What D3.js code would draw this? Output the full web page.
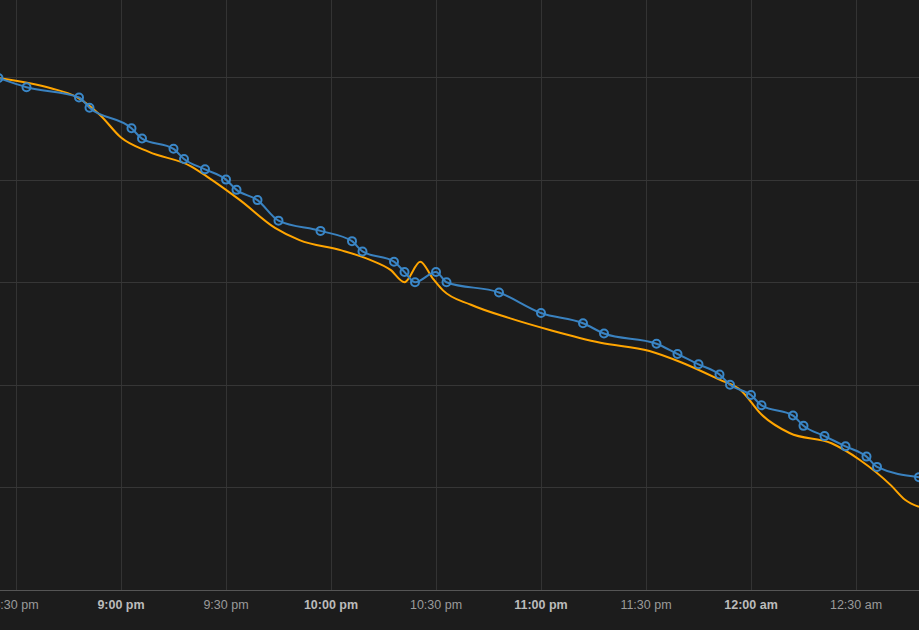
<!DOCTYPE html>
<html><head><meta charset="utf-8">
<script src="https://cdn.jsdelivr.net/npm/d3@7"></script>
<style>body{margin:0;background:#1c1c1c;}svg{display:block;}</style>
</head><body><svg id="c" width="919" height="630"></svg>
<script>
// minutes after 20:00
const blueMinutes=[25,33,48,51,63,66,75,78,84,90,93,99,105,117,126,129,138,141,144,150,153,168,180,192,198,213,219,225,231,234,240,243,252,255,261,267,273,276,288];
const blueValues=[4.99,4.9,4.8,4.7,4.5,4.4,4.3,4.2,4.1,4.0,3.9,3.8,3.6,3.5,3.4,3.3,3.2,3.1,3.0,3.1,3.0,2.9,2.7,2.6,2.5,2.4,2.3,2.2,2.1,2.0,1.9,1.8,1.7,1.6,1.5,1.4,1.3,1.2,1.1];
const orangeMinutes=[25,40,47,54,60,68,80,85,94,104,111,123,131,137,141,145.5,149,152,160,171,183,197,211,220,231,237,243,251,263,271,280,284,288];
const orangeValues=[4.99,4.89,4.81,4.63,4.41,4.27,4.13,4.02,3.8,3.53,3.41,3.31,3.22,3.12,3.0,3.2,3.04,2.92,2.78,2.65,2.53,2.41,2.33,2.22,2.05,1.95,1.71,1.53,1.43,1.27,1.02,0.88,0.81];
const tickMinutes=[30,60,90,120,150,180,210,240,270];
const tickLabels=["8:30 pm","9:00 pm","9:30 pm","10:00 pm","10:30 pm","11:00 pm","11:30 pm","12:00 am","12:30 am"];
const tickBold=[false,true,false,true,false,true,false,true,false];
const yTicks=[0,1,2,3,4,5];

const base=new Date(2024,0,1,20,0);
const t=m=>new Date(base.getTime()+m*60000);
const svg=d3.select("#c");
const x=d3.scaleTime().domain([t(30-16*30/105),t(30+903*30/105)]).range([0,919]);
const y=d3.scaleLinear().domain([0,5]).range([590,77]);

svg.append("rect").attr("width",919).attr("height",630).attr("fill","#1c1c1c");
const g=svg.append("g");
g.selectAll(".vg").data(tickMinutes).join("line").attr("x1",d=>x(t(d))+.5).attr("x2",d=>x(t(d))+.5)
 .attr("y1",0).attr("y2",590).attr("stroke","#333").attr("stroke-width",1);
g.selectAll(".hg").data(yTicks).join("line").attr("x1",0).attr("x2",919)
 .attr("y1",d=>Math.round(y(d))+.5).attr("y2",d=>Math.round(y(d))+.5)
 .attr("stroke",d=>d===0?"#555":"#363636").attr("stroke-width",1);
g.selectAll(".tl").data(tickMinutes).join("text").attr("x",d=>x(t(d))).attr("y",609)
 .attr("text-anchor","middle").attr("fill",(d,i)=>tickBold[i]?"#bbb":"#9a9a9a")
 .attr("font-family","'Liberation Sans Narrow','Liberation Sans',Arial,sans-serif").attr("font-size",12.5)
 .attr("font-weight",(d,i)=>tickBold[i]?"bold":"normal").text((d,i)=>tickLabels[i]);

const oData=orangeMinutes.map((m,i)=>[t(m),orangeValues[i]]);
const bData=blueMinutes.map((m,i)=>[t(m),blueValues[i]]);
const line=d3.line().x(d=>x(d[0])).y(d=>y(d[1])).curve(d3.curveMonotoneX);
svg.append("path").datum(oData).attr("d",line).attr("fill","none").attr("stroke","#ffa500").attr("stroke-width",2);
svg.append("path").datum(bData).attr("d",line).attr("fill","none").attr("stroke","#3a82c0").attr("stroke-width",2);
svg.selectAll(".pt").data(bData).join("circle").attr("cx",d=>x(d[0])).attr("cy",d=>y(d[1])).attr("r",4)
 .attr("fill","none").attr("stroke","#3a87c8").attr("stroke-width",2);
</script></body></html>
